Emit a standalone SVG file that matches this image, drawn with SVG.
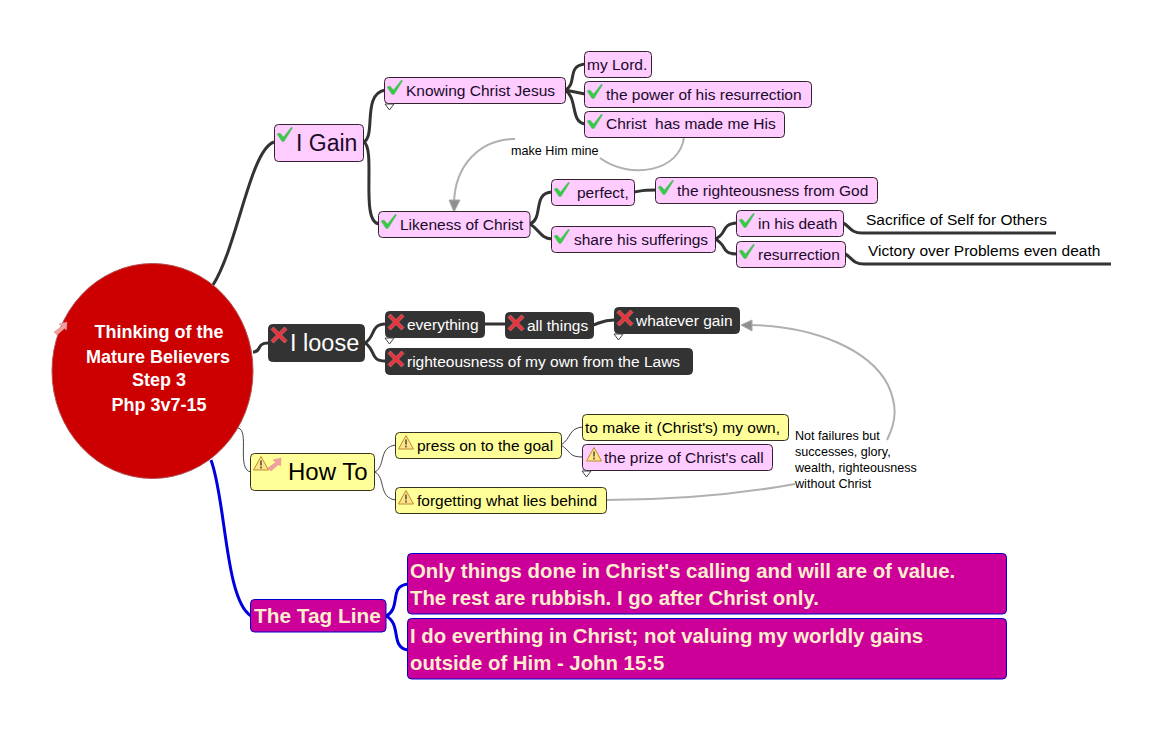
<svg xmlns="http://www.w3.org/2000/svg" width="1161" height="731" viewBox="0 0 1161 731">
<style>
text{font-family:"Liberation Sans",Arial,sans-serif;font-size:15.5px;fill:#1a0a2a}
.p{fill:#ffccff;stroke:#33202f;stroke-width:1}
.d{fill:#333333;stroke:#333333;stroke-width:1}
.y{fill:#ffff99;stroke:#333320;stroke-width:1}
.m{fill:#cc0099;stroke:#0000cc;stroke-width:1}
.dt{fill:#fff}
.bt{fill:#000}
.big{font-size:24px}
.mt{fill:#ffeecc;font-weight:bold;font-size:20.35px}
.ct{fill:#fff;font-weight:bold;font-size:18px}
.note{font-size:12.6px;fill:#000}
.c{fill:none;stroke:#333333;stroke-width:3}
.t{fill:none;stroke:#444444;stroke-width:1}
.b{fill:none;stroke:#0000dd;stroke-width:3}
.g{fill:none;stroke:#b0b0b0;stroke-width:2}
.tri{fill:#fff;stroke:#444;stroke-width:1}
.ah{fill:#8f8f8f;stroke:#aaa;stroke-width:1}
</style>
<defs>
<g id="chk"><path d="M0 7 L3 6 L6.500 10 L14.500 0 L15.500 1 L7 14.500 L5 14.500 Z" fill="#33cc44" stroke="#6fae78" stroke-width="0.5"/></g>
<g id="x"><path d="M0 2.500 L2.500 0 L8 5.500 L13.500 0 L16 2.500 L10.500 8 L16 13.500 L13.500 16 L8 10.500 L2.500 16 L0 13.500 L5.500 8 Z" fill="#e8323c" stroke="#e09a9a" stroke-width="0.5"/></g>
<g id="w"><path d="M8 0.500 L15.500 14 L0.500 14 Z" fill="#ffe58a" stroke="#c08a30" stroke-width="1"/><path d="M8 4.500 V9.500 M8 10.500 V12.500" stroke="#333" stroke-width="1.300"/></g>
<g id="ar"><path d="M0 10 L8 4 L5 2 L13 0 L12.500 8 L10.500 6.500 L3 13 Z" fill="#f0a0a0" stroke="#e08888" stroke-width="0.5"/></g>
</defs>
<g id="connectors">
<path class="c" d="M213 285 C238 245 250 150 274 142"/>
<path class="c" d="M364 142 C376 135 362 94 385 90"/>
<path class="c" d="M364 142 C376 150 360 222 379 224"/>
<path class="c" d="M565 90 C578 84 566 66 585 64"/>
<path class="c" d="M565 90 L585 94"/>
<path class="c" d="M565 90 C578 98 570 122 585 124"/>
<path class="c" d="M530 224 C544 218 532 193 552 192"/>
<path class="c" d="M530 224 C540 230 540 238 552 239"/>
<path class="c" d="M634 192 C642 191 640 190 656 190"/>
<path class="c" d="M715 239 C728 234 720 224 737 223"/>
<path class="c" d="M715 239 C728 245 720 254 737 254"/>
<path class="c" d="M843 223 C850 226 850 233 862 233 H1056"/>
<path class="c" d="M845 254 C852 257 852 264 864 264 H1111"/>
<path class="c" d="M253 352 C262 352 256 343 268 343"/>
<path class="c" d="M365 343 C376 336 370 325 385 324"/>
<path class="c" d="M365 343 C376 350 370 361 385 361"/>
<path class="c" d="M485 324 H505"/>
<path class="c" d="M593 325 C602 322 604 320 614 320"/>
<path class="t" d="M238 428 C250 430 236 470 251 472"/>
<path class="t" d="M375 472 C386 466 378 447 396 445"/>
<path class="t" d="M375 472 C386 478 378 498 396 500"/>
<path class="t" d="M561 445 C572 438 568 428 583 427"/>
<path class="t" d="M561 445 C572 452 568 457 583 457"/>
<path class="b" d="M211 460 C226 500 225 600 251 616"/>
<path class="b" d="M386 616 C402 608 388 586 408 584"/>
<path class="b" d="M386 616 C402 624 390 648 408 650"/>
<path class="g" d="M684 137 C680 172 630 180 600 158"/>
<path class="g" d="M515 139 C480 139 455 165 454 203"/>
<path class="ah" d="M449 200 H460 L454 212 Z"/>
<path class="g" d="M606 500 C670 500 740 494 795 484"/>
<path class="g" d="M887 440 C897 420 897 405 888 385 C870 350 815 326 751 325"/>
<path class="ah" d="M752 320 V331 L741 325 Z"/>
</g>
<g id="central"><ellipse cx="152.500" cy="371" rx="100.500" ry="107.500" fill="#cc0000" stroke="#b05050" stroke-width="1"/>
<use href="#ar" x="54" y="322"/>
<g text-anchor="middle"><text x="159" y="338" class="ct">Thinking of the</text><text x="158" y="363" class="ct">Mature Believers</text><text x="159" y="386" class="ct">Step 3</text><text x="159" y="411" class="ct">Php 3v7-15</text></g></g>
<g id="i-gain"><rect class="p" x="274.500" y="124.500" width="89" height="37" rx="4"/><use href="#chk" x="277" y="127"/><text x="296" y="151" style="font-size:23px">I Gain</text></g>
<g id="knowing"><rect class="p" x="384.500" y="77.500" width="181" height="26" rx="4"/><use href="#chk" x="387" y="80"/><text x="406" y="96">Knowing Christ Jesus</text><path class="tri" d="M385 104 H394 L389.500 110 Z"/></g>
<g id="likeness"><rect class="p" x="378.500" y="211.500" width="151.500" height="26" rx="4"/><use href="#chk" x="381" y="214"/><text x="400" y="230">Likeness of Christ</text></g>
<g id="my-lord"><rect class="p" x="584.500" y="51.500" width="67" height="26" rx="4"/><text x="587" y="70">my Lord.</text></g>
<g id="power"><rect class="p" x="584.500" y="81.500" width="227" height="26" rx="4"/><use href="#chk" x="587" y="84"/><text x="606" y="100">the power of his resurrection</text></g>
<g id="has-made"><rect class="p" x="584.500" y="111.500" width="200" height="26" rx="4"/><use href="#chk" x="587" y="114"/><text x="606" y="129" xml:space="preserve">Christ  has made me His</text></g>
<g id="perfect"><rect class="p" x="551.500" y="179.500" width="83" height="26" rx="4"/><use href="#chk" x="554" y="182"/><text x="577" y="198">perfect,</text></g>
<g id="righteousness"><rect class="p" x="655.500" y="177.500" width="222" height="26" rx="4"/><use href="#chk" x="658" y="180"/><text x="677" y="196">the righteousness from God</text></g>
<g id="share"><rect class="p" x="551.500" y="226.500" width="164" height="26" rx="4"/><use href="#chk" x="554" y="229"/><text x="574" y="245">share his sufferings</text></g>
<g id="in-death"><rect class="p" x="736.500" y="210.500" width="107" height="26" rx="4"/><use href="#chk" x="739" y="213"/><text x="758" y="229">in his death</text></g>
<g id="resurrection"><rect class="p" x="736.500" y="241.500" width="109" height="26" rx="4"/><use href="#chk" x="739" y="244"/><text x="758" y="260">resurrection</text></g>
<g id="sacrifice"><text x="866" y="225" class="bt">Sacrifice of Self for Others</text></g>
<g id="victory"><text x="868" y="256" class="bt">Victory over Problems even death</text></g>
<g id="make-him-mine"><text x="511" y="155" class="note">make Him mine</text></g>
<g id="i-loose"><rect class="d" x="268.500" y="324.500" width="96" height="37" rx="4"/><use href="#x" x="271" y="327"/><text x="290" y="351" class="dt" style="font-size:23.5px">I loose</text></g>
<g id="everything"><rect class="d" x="385.500" y="311.500" width="99" height="26" rx="4"/><use href="#x" x="388" y="314"/><text x="407" y="330" class="dt">everything</text></g>
<g id="all-things"><rect class="d" x="505.500" y="312.500" width="88" height="26" rx="4"/><use href="#x" x="508" y="315"/><text x="527" y="331" class="dt">all things</text></g>
<g id="whatever"><rect class="d" x="614.500" y="307.500" width="125" height="26" rx="4"/><use href="#x" x="617" y="310"/><text x="636" y="326" class="dt">whatever gain</text></g>
<g id="own-laws"><rect class="d" x="385.500" y="348.500" width="307" height="26" rx="4"/><use href="#x" x="388" y="351"/><text x="407" y="367" class="dt">righteousness of my own from the Laws</text></g>
<path class="tri" d="M385 338 H394 L389.500 344 Z"/>
<path class="tri" d="M614 334 H623 L618.500 340 Z"/>
<g id="how-to"><rect class="y" x="250.500" y="453.500" width="124" height="37" rx="4"/><use href="#w" x="253" y="456"/><use href="#ar" x="268" y="458"/><text x="288" y="480" class="big bt">How To</text></g>
<g id="press"><rect class="y" x="395.500" y="432.500" width="166" height="26" rx="4"/><use href="#w" x="398" y="435"/><text x="417" y="451" class="bt">press on to the goal</text></g>
<g id="to-make"><rect class="y" x="582.500" y="414.500" width="206" height="26" rx="4"/><text x="585" y="433" class="bt">to make it (Christ's) my own,</text></g>
<g id="prize"><rect class="p" x="582.500" y="444.500" width="190" height="26" rx="4"/><use href="#w" x="586" y="447"/><text x="604" y="463">the prize of Christ's call</text><path class="tri" d="M582 471 H591 L586.500 477 Z"/></g>
<g id="forgetting"><rect class="y" x="395.500" y="487.500" width="211" height="26" rx="4"/><use href="#w" x="398" y="490"/><text x="417" y="506" class="bt">forgetting what lies behind</text></g>
<g id="not-failures"><text class="note"><tspan x="795" y="440">Not failures but</tspan><tspan x="795" y="456">successes, glory,</tspan><tspan x="795" y="472">wealth, righteousness</tspan><tspan x="795" y="488">without Christ</tspan></text></g>
<g id="tag-line"><rect class="m" x="250.500" y="599.500" width="135.500" height="32.500" rx="4"/><text x="254" y="623" class="mt" style="font-size:20.8px">The Tag Line</text></g>
<g id="only"><rect class="m" x="407.500" y="553.500" width="599" height="60.500" rx="4"/><text class="mt"><tspan x="410" y="578">Only things done in Christ's calling and will are of value.</tspan><tspan x="410" y="605">The rest are rubbish. I go after Christ only.</tspan></text></g>
<g id="do"><rect class="m" x="407.500" y="618.500" width="599" height="60.500" rx="4"/><text class="mt"><tspan x="410" y="643">I do everthing in Christ; not valuing my worldly gains</tspan><tspan x="410" y="670">outside of Him - John 15:5</tspan></text></g>
</svg>
